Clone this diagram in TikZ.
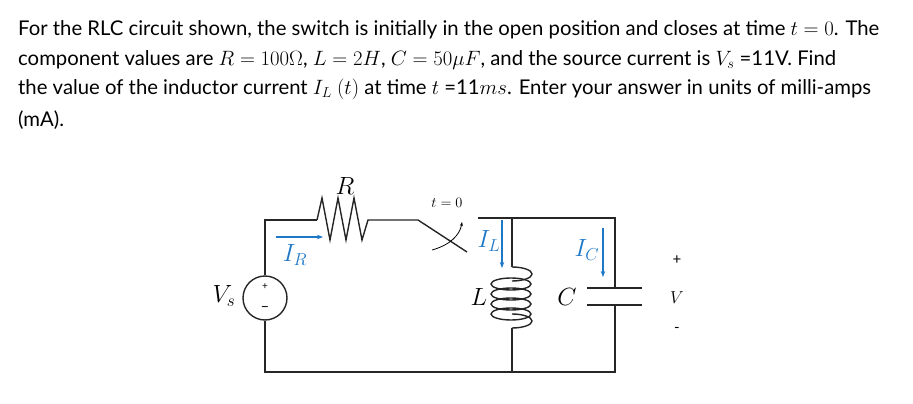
\documentclass[tikz,border=0pt]{standalone}
\usepackage{fontspec}
\setmainfont{Lato}
\usetikzlibrary{arrows.meta}
\definecolor{cblue}{RGB}{30,120,200}
\begin{document}
\begin{tikzpicture}[x=1pt,y=-1pt,
  txt/.style={anchor=west,inner sep=0pt,font=\fontsize{20.3}{24}\selectfont},
  w/.style={line width=1.4pt,black!85},
  blue arr/.style={-{Stealth[length=6pt]},line width=1.4pt,cblue},
  lbl/.style={inner sep=1pt,font=\fontsize{25}{28}\selectfont},
  slbl/.style={inner sep=1pt,font=\fontsize{15}{18}\selectfont},
  blbl/.style={lbl,text=cblue}]
\useasboundingbox (0,0) rectangle (913,404);
\node[txt] (l1) at (18,30) {For the RLC circuit shown, the switch is initially in the open position and closes at time $t=0$. The};
\node[txt] (l2) at (18,60) {component values are $R=100\Omega$, $L=2H$, $C=50\mu F$, and the source current is $V_s$ =11V. Find};
\node[txt] (l3) at (18,89) {the value of the inductor current $I_L\ (t)$ at time $t$ =11$ms$. Enter your answer in units of milli-amps};
\node[txt] (l4) at (18,120) {(mA).};
% coordinates
\coordinate (tl) at (265,220);
\coordinate (bl) at (265,372);
\coordinate (r1) at (317,220);
\coordinate (s1) at (418,220);
\coordinate (s2) at (467,252);
\coordinate (sc) at (478,218);
\coordinate (lt) at (512,218);
\coordinate (ct) at (615,218);
\coordinate (l1a) at (512,267);
\coordinate (l2a) at (512,328);
\coordinate (lb) at (512,372);
\coordinate (cb) at (615,372);
\coordinate (cp1) at (615,288);
\coordinate (cp2) at (615,305);
\node[circle,draw,w,minimum size=44pt,inner sep=0pt] (src) at (265,298) {};
\node[slbl,font=\fontsize{10}{12}\selectfont] at (265,287) {+};
\node[slbl] at (265,309) {--};
% wires
\draw[w] (src.north) -- (tl) -- (r1);
\draw[w] (r1) -- (322,198) -- (330,240) -- (338,198) -- (346,240) -- (354,198) -- (362,240) -- (368,220) -- (s1) -- (s2);
\draw[-{Stealth[length=4pt]},line width=0.8pt] (432,250) .. controls (450,245) and (460,235) .. (462,222);
\draw[w] (sc) -- (ct) -- (cp1);
\draw[w] (587,288) -- (642,288);
\draw[w] (587,305) -- (642,305);
\draw[w] (cp2) -- (cb) -- (bl) -- (src.south);
\draw[w] (lt) -- (l1a);
\draw[w] (l2a) -- (lb);
% inductor coils
\draw[w] (l1a) arc[start angle=-90,end angle=90,x radius=20pt,y radius=-7pt];
\foreach \yy in {284,294,304,314}
  \draw[w] (511,\yy) ellipse[x radius=20pt,y radius=6pt];
\draw[w] (l2a) arc[start angle=90,end angle=-90,x radius=20pt,y radius=-7pt];
% current arrows
\draw[blue arr] (276,237) -- (323,237);
\draw[blue arr] (502,220) -- (502,268);
\draw[blue arr] (603,228) -- (603,277);
% labels
\node[lbl] at (345,186) {$R$};
\node[slbl] at (447,203) {$t=0$};
\node[blbl] at (489,241) {$I_L$};
\node[blbl] at (587,250) {$I_C$};
\node[blbl] at (295,255) {$I_R$};
\node[lbl] at (224,296) {$V_s$};
\node[lbl] at (479,297) {$L$};
\node[lbl] at (567,297) {$C$};
\node[slbl] at (677,260) {+};
\node[slbl,font=\fontsize{18}{20}\selectfont] at (677,298) {$V$};
\node[slbl] at (677,330) {-};
\end{tikzpicture}
\end{document}
